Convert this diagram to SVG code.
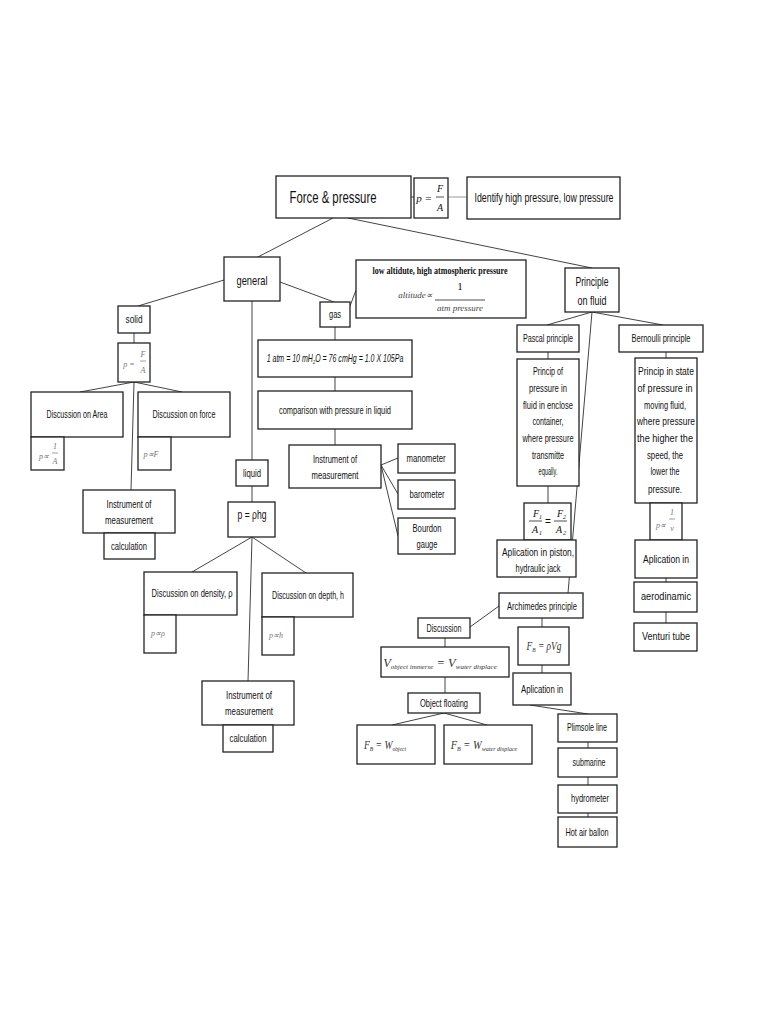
<svg xmlns="http://www.w3.org/2000/svg" width="768" height="1024" viewBox="0 0 768 1024">
<style>
rect{fill:#fff;stroke:#222;stroke-width:1.3}
.c line{stroke:#444;stroke-width:1}
text{font-family:"Liberation Sans",Arial,sans-serif;fill:#111;text-anchor:middle}
.t{font-size:10.5px}
.m{font-family:"Liberation Serif",serif;font-style:italic}
.s{text-anchor:start}
.f{font-size:12px;fill:#333}
.sb{font-size:7px}
.g{fill:#777;font-size:8px}
.bar{stroke:#222;stroke-width:0.8}
.gbar{stroke:#777;stroke-width:0.7}
</style>
<rect x="0" y="0" width="768" height="1024" style="stroke:none"/>
<g class="c" id="connectors">
<line x1="411" y1="197" x2="414" y2="197"/>
<line x1="448" y1="197" x2="467" y2="197" style="stroke:#999"/>
<line x1="333" y1="218" x2="256" y2="258"/>
<line x1="348" y1="218" x2="592" y2="268"/>
<line x1="224" y1="280" x2="138" y2="306"/>
<line x1="280" y1="282" x2="334" y2="302"/>
<line x1="350" y1="306" x2="356" y2="290"/>
<line x1="252" y1="301" x2="252" y2="460"/>
<line x1="134" y1="333" x2="134" y2="343"/>
<line x1="134" y1="382" x2="80" y2="392"/>
<line x1="134" y1="382" x2="182" y2="392"/>
<line x1="134" y1="382" x2="131" y2="490"/>
<line x1="335" y1="327" x2="335" y2="340"/>
<line x1="335" y1="377" x2="335" y2="391"/>
<line x1="335" y1="429" x2="335" y2="445"/>
<line x1="381" y1="465" x2="398" y2="458"/>
<line x1="381" y1="465" x2="398" y2="494"/>
<line x1="381" y1="465" x2="398" y2="536"/>
<line x1="252" y1="486" x2="252" y2="502"/>
<line x1="252" y1="537" x2="192" y2="572"/>
<line x1="252" y1="537" x2="306" y2="573"/>
<line x1="252" y1="537" x2="248" y2="681"/>
<line x1="592" y1="312" x2="547" y2="325"/>
<line x1="592" y1="312" x2="663" y2="325"/>
<line x1="592" y1="312" x2="568" y2="593"/>
<line x1="548" y1="352" x2="548" y2="359"/>
<line x1="548" y1="486" x2="548" y2="503"/>
<line x1="666" y1="352" x2="666" y2="358"/>
<line x1="666" y1="578" x2="666" y2="582"/>
<line x1="666" y1="612" x2="666" y2="623"/>
<line x1="499" y1="606" x2="470" y2="627"/>
<line x1="542" y1="618" x2="542" y2="627"/>
<line x1="542" y1="665" x2="542" y2="673"/>
<line x1="530" y1="705" x2="588" y2="714"/>
<line x1="445" y1="638" x2="445" y2="647"/>
<line x1="445" y1="677" x2="445" y2="693"/>
<line x1="444" y1="713" x2="392" y2="725"/>
<line x1="444" y1="713" x2="487" y2="725"/>
<line x1="588" y1="742" x2="588" y2="748"/>
<line x1="588" y1="777" x2="588" y2="785"/>
<line x1="588" y1="813" x2="588" y2="817"/>
</g>
<g id="force-pressure"><rect x="276" y="176" width="135" height="42"/><text x="333" y="203" style="font-size:16px" textLength="87" lengthAdjust="spacingAndGlyphs">Force &amp; pressure</text></g>
<g id="p-formula-top"><rect x="414" y="178" width="34" height="40"/>
<text x="424" y="202" class="m" style="font-size:11px">p =</text>
<text x="440" y="192" class="m" style="font-size:10px">F</text><line class="bar" x1="436" y1="197" x2="444" y2="197"/>
<text x="440" y="211" class="m" style="font-size:10px">A</text></g>
<g id="identify"><rect x="467" y="177" width="153" height="42"/><text x="544" y="202" style="font-size:12.5px" textLength="139" lengthAdjust="spacingAndGlyphs">Identify high pressure, low pressure</text></g>
<g id="general"><rect x="224" y="257" width="56" height="44"/><text x="252" y="285" style="font-size:13px" textLength="31" lengthAdjust="spacingAndGlyphs">general</text></g>
<g id="gas"><rect x="320" y="302" width="30" height="25"/><text x="335" y="318" class="t" textLength="12" lengthAdjust="spacingAndGlyphs">gas</text></g>
<g id="altitude"><rect x="356" y="260" width="170" height="58"/>
<text x="440" y="274" style="font-family:'Liberation Serif',serif;font-weight:bold;font-size:10.5px" textLength="135" lengthAdjust="spacingAndGlyphs">low altidute, high atmospheric pressure</text>
<text x="415" y="298" class="m" style="font-size:9px;fill:#444">altitude∝</text>
<text x="460" y="290" style="font-family:'Liberation Serif',serif;font-size:11px">1</text>
<line class="bar" x1="435" y1="300" x2="485" y2="300"/>
<text x="460" y="311" class="m" style="font-size:9px;fill:#444">atm pressure</text></g>
<g id="principle-fluid"><rect x="565" y="268" width="54" height="44"/><text x="592" y="286" style="font-size:13px" textLength="33" lengthAdjust="spacingAndGlyphs">Principle</text><text x="592" y="305" style="font-size:13px" textLength="29" lengthAdjust="spacingAndGlyphs">on fluid</text></g>
<g id="solid"><rect x="118" y="306" width="32" height="27"/><text x="134" y="323" class="t" textLength="17" lengthAdjust="spacingAndGlyphs">solid</text></g>
<g id="p-solid"><rect x="118" y="343" width="32" height="39"/>
<text x="129" y="367" class="m g">p =</text><text x="143" y="357" class="m g">F</text><line class="gbar" x1="140" y1="361" x2="146" y2="361"/><text x="143" y="373" class="m g">A</text></g>
<g id="disc-area"><rect x="31" y="392" width="92" height="45"/><text x="77" y="418" class="t" textLength="61" lengthAdjust="spacingAndGlyphs">Discussion on Area</text></g>
<g id="disc-force"><rect x="138" y="392" width="92" height="45"/><text x="184" y="418" class="t" textLength="63" lengthAdjust="spacingAndGlyphs">Discussion on force</text></g>
<g id="p-area"><rect x="31" y="437" width="33" height="33"/>
<text x="44" y="459" class="m g">p∝</text><text x="55" y="449" class="m g">1</text><line class="gbar" x1="52" y1="453" x2="58" y2="453"/><text x="55" y="464" class="m g">A</text></g>
<g id="p-force"><rect x="138" y="437" width="33" height="33"/><text x="151" y="457" class="m g">p∝F</text></g>
<g id="instr-solid"><rect x="83" y="490" width="92" height="43"/><text x="129" y="508" class="t" textLength="45" lengthAdjust="spacingAndGlyphs">Instrument of</text><text x="129" y="524" class="t" textLength="48" lengthAdjust="spacingAndGlyphs">measurement</text></g>
<g id="calc-solid"><rect x="104" y="533" width="51" height="26"/><text x="129" y="550" class="t" textLength="36" lengthAdjust="spacingAndGlyphs">calculation</text></g>
<g id="atm"><rect x="258" y="340" width="154" height="37"/>
<text transform="translate(335 362) scale(0.67 1)" x="0" y="0" class="t" style="font-style:italic">1 atm = 10 mH<tspan style="font-size:6px" dy="2">2</tspan><tspan dy="-2">O = 76 cmHg = 1.0 X 105Pa</tspan></text></g>
<g id="comparison"><rect x="258" y="391" width="154" height="38"/><text x="335" y="414" class="t" textLength="112" lengthAdjust="spacingAndGlyphs">comparison with pressure in liquid</text></g>
<g id="instr-gas"><rect x="289" y="445" width="92" height="43"/><text x="335" y="463" class="t" textLength="44" lengthAdjust="spacingAndGlyphs">Instrument of</text><text x="335" y="479" class="t" textLength="47" lengthAdjust="spacingAndGlyphs">measurement</text></g>
<g id="manometer"><rect x="398" y="444" width="57" height="29"/><text x="426" y="462" class="t" textLength="39" lengthAdjust="spacingAndGlyphs">manometer</text></g>
<g id="barometer"><rect x="398" y="480" width="57" height="29"/><text x="427" y="498" class="t" textLength="35" lengthAdjust="spacingAndGlyphs">barometer</text></g>
<g id="bourdon"><rect x="398" y="518" width="57" height="36"/><text x="427" y="532" class="t" textLength="29" lengthAdjust="spacingAndGlyphs">Bourdon</text><text x="427" y="548" class="t" textLength="21" lengthAdjust="spacingAndGlyphs">gauge</text></g>
<g id="liquid"><rect x="236" y="460" width="32" height="26"/><text x="252" y="477" class="t" textLength="18" lengthAdjust="spacingAndGlyphs">liquid</text></g>
<g id="p-liquid"><rect x="228" y="502" width="47" height="35"/><text x="252" y="519" style="font-size:12.5px" textLength="29" lengthAdjust="spacingAndGlyphs">p = ρhg</text></g>
<g id="disc-density"><rect x="144" y="572" width="93" height="43"/><text x="192" y="597" class="t" textLength="81" lengthAdjust="spacingAndGlyphs">Discussion on density, ρ</text></g>
<g id="disc-depth"><rect x="262" y="573" width="91" height="44"/><text x="308" y="599" class="t" textLength="72" lengthAdjust="spacingAndGlyphs">Discussion on depth, h</text></g>
<g id="p-rho"><rect x="144" y="615" width="32" height="38"/><text x="158" y="636" class="m g">p∝ρ</text></g>
<g id="p-h"><rect x="262" y="617" width="32" height="38"/><text x="276" y="638" class="m g">p∝h</text></g>
<g id="instr-liquid"><rect x="202" y="681" width="92" height="44"/><text x="249" y="699" class="t" textLength="46" lengthAdjust="spacingAndGlyphs">Instrument of</text><text x="249" y="715" class="t" textLength="48" lengthAdjust="spacingAndGlyphs">measurement</text></g>
<g id="calc-liquid"><rect x="223" y="725" width="50" height="27"/><text x="248" y="742" class="t" textLength="37" lengthAdjust="spacingAndGlyphs">calculation</text></g>
<g id="pascal"><rect x="517" y="325" width="62" height="27"/><text x="548" y="342" class="t" textLength="50" lengthAdjust="spacingAndGlyphs">Pascal principle</text></g>
<g id="pascal-desc"><rect x="517" y="359" width="62" height="127"/>
<text class="t" x="548" y="375" textLength="30" lengthAdjust="spacingAndGlyphs">Princip of</text><text class="t" x="548" y="392" textLength="38" lengthAdjust="spacingAndGlyphs">pressure in</text><text class="t" x="548" y="409" textLength="50" lengthAdjust="spacingAndGlyphs">fluid in enclose</text><text class="t" x="548" y="425" textLength="31" lengthAdjust="spacingAndGlyphs">container,</text><text class="t" x="548" y="442" textLength="51" lengthAdjust="spacingAndGlyphs">where pressure</text><text class="t" x="548" y="459" textLength="32" lengthAdjust="spacingAndGlyphs">transmitte</text><text class="t" x="548" y="475" textLength="19" lengthAdjust="spacingAndGlyphs">equally.</text></g>
<g id="pascal-formula"><rect x="524" y="503" width="47" height="37"/>
<text x="533" y="517" class="m s" style="font-size:10px">F</text><text x="539" y="519" class="m s" style="font-size:6px">1</text><line class="bar" x1="529" y1="521" x2="542" y2="521"/>
<text x="532" y="533" class="m s" style="font-size:10px">A</text><text x="539" y="535" class="m s" style="font-size:6px">1</text>
<text x="548" y="525" style="font-size:10px">=</text>
<text x="557" y="517" class="m s" style="font-size:10px">F</text><text x="563" y="519" class="m s" style="font-size:6px">2</text><line class="bar" x1="554" y1="521" x2="567" y2="521"/>
<text x="556" y="533" class="m s" style="font-size:10px">A</text><text x="563" y="535" class="m s" style="font-size:6px">2</text></g>
<g id="pascal-app"><rect x="497" y="540" width="79" height="37"/><text x="538" y="556" style="font-size:11.5px" textLength="72" lengthAdjust="spacingAndGlyphs">Aplication in piston,</text><text x="538" y="572" style="font-size:11.5px" textLength="45" lengthAdjust="spacingAndGlyphs">hydraulic jack</text></g>
<g id="bernoulli"><rect x="619" y="325" width="84" height="27"/><text x="661" y="342" class="t" textLength="59" lengthAdjust="spacingAndGlyphs">Bernoulli principle</text></g>
<g id="bernoulli-desc"><rect x="635" y="358" width="62" height="145"/>
<text class="t" x="666" y="375" textLength="56" lengthAdjust="spacingAndGlyphs">Princip in state</text><text class="t" x="665" y="392" textLength="55" lengthAdjust="spacingAndGlyphs">of pressure in</text><text class="t" x="665" y="409" textLength="42" lengthAdjust="spacingAndGlyphs">moving fluid,</text><text class="t" x="666" y="425" textLength="58" lengthAdjust="spacingAndGlyphs">where pressure</text><text class="t" x="665" y="442" textLength="56" lengthAdjust="spacingAndGlyphs">the higher the</text><text class="t" x="665" y="459" textLength="36" lengthAdjust="spacingAndGlyphs">speed, the</text><text class="t" x="665" y="475" textLength="29" lengthAdjust="spacingAndGlyphs">lower the</text><text class="t" x="665" y="493" textLength="34" lengthAdjust="spacingAndGlyphs">pressure.</text></g>
<g id="p-v"><rect x="650" y="503" width="32" height="37"/>
<text x="661" y="528" class="m g">p∝</text><text x="672" y="515" class="m g">1</text><line class="gbar" x1="669" y1="519" x2="675" y2="519"/><text x="672" y="531" class="m g">v</text></g>
<g id="bernoulli-app"><rect x="635" y="540" width="62" height="38"/><text x="666" y="563" style="font-size:11.5px" textLength="46" lengthAdjust="spacingAndGlyphs">Aplication in</text></g>
<g id="aerodinamic"><rect x="634" y="582" width="63" height="30"/><text x="666" y="600" class="t" textLength="50" lengthAdjust="spacingAndGlyphs">aerodinamic</text></g>
<g id="venturi"><rect x="634" y="623" width="63" height="28"/><text x="666" y="640" class="t" textLength="48" lengthAdjust="spacingAndGlyphs">Venturi tube</text></g>
<g id="archimedes"><rect x="499" y="593" width="84" height="25"/><text x="542" y="610" class="t" textLength="70" lengthAdjust="spacingAndGlyphs">Archimedes principle</text></g>
<g id="discussion"><rect x="418" y="618" width="52" height="20"/><text x="444" y="632" class="t" textLength="35" lengthAdjust="spacingAndGlyphs">Discussion</text></g>
<g id="v-eq"><rect x="381" y="647" width="128" height="30"/>
<text x="440" y="667" class="m f" style="font-size:12.5px">V<tspan class="sb" dy="2">object immerse</tspan><tspan dy="-2"> = V</tspan><tspan class="sb" dy="2">water displace</tspan></text></g>
<g id="floating"><rect x="408" y="693" width="72" height="20"/><text x="444" y="707" class="t" textLength="48" lengthAdjust="spacingAndGlyphs">Object floating</text></g>
<g id="fb-object"><rect x="357" y="725" width="78" height="39"/>
<text transform="translate(385 749) scale(0.8 1)" x="0" y="0" class="m f">F<tspan class="sb" dy="2">B</tspan><tspan dy="-2"> = W</tspan><tspan class="sb" dy="2">object</tspan></text></g>
<g id="fb-water"><rect x="444" y="725" width="88" height="39"/>
<text transform="translate(484 749) scale(0.87 1)" x="0" y="0" class="m f">F<tspan class="sb" dy="2">B</tspan><tspan dy="-2"> = W</tspan><tspan class="sb" dy="2">water displace</tspan></text></g>
<g id="fb-rhovg"><rect x="518" y="627" width="51" height="38"/>
<text transform="translate(544 650) scale(0.78 1)" x="0" y="0" class="m f">F<tspan class="sb" dy="2">B</tspan><tspan dy="-2"> = ρVg</tspan></text></g>
<g id="arch-app"><rect x="513" y="673" width="58" height="32"/><text x="542" y="693" style="font-size:11.5px" textLength="42" lengthAdjust="spacingAndGlyphs">Aplication in</text></g>
<g id="plimsole"><rect x="558" y="714" width="59" height="28"/><text x="587" y="731" class="t" textLength="40" lengthAdjust="spacingAndGlyphs">Plimsole line</text></g>
<g id="submarine"><rect x="558" y="748" width="59" height="29"/><text x="589" y="766" class="t" textLength="33" lengthAdjust="spacingAndGlyphs">submarine</text></g>
<g id="hydrometer"><rect x="558" y="785" width="59" height="28"/><text x="590" y="802" class="t" textLength="38" lengthAdjust="spacingAndGlyphs">hydrometer</text></g>
<g id="hot-air"><rect x="558" y="817" width="59" height="30"/><text x="587" y="836" class="t" textLength="43" lengthAdjust="spacingAndGlyphs">Hot air ballon</text></g>
</svg>
